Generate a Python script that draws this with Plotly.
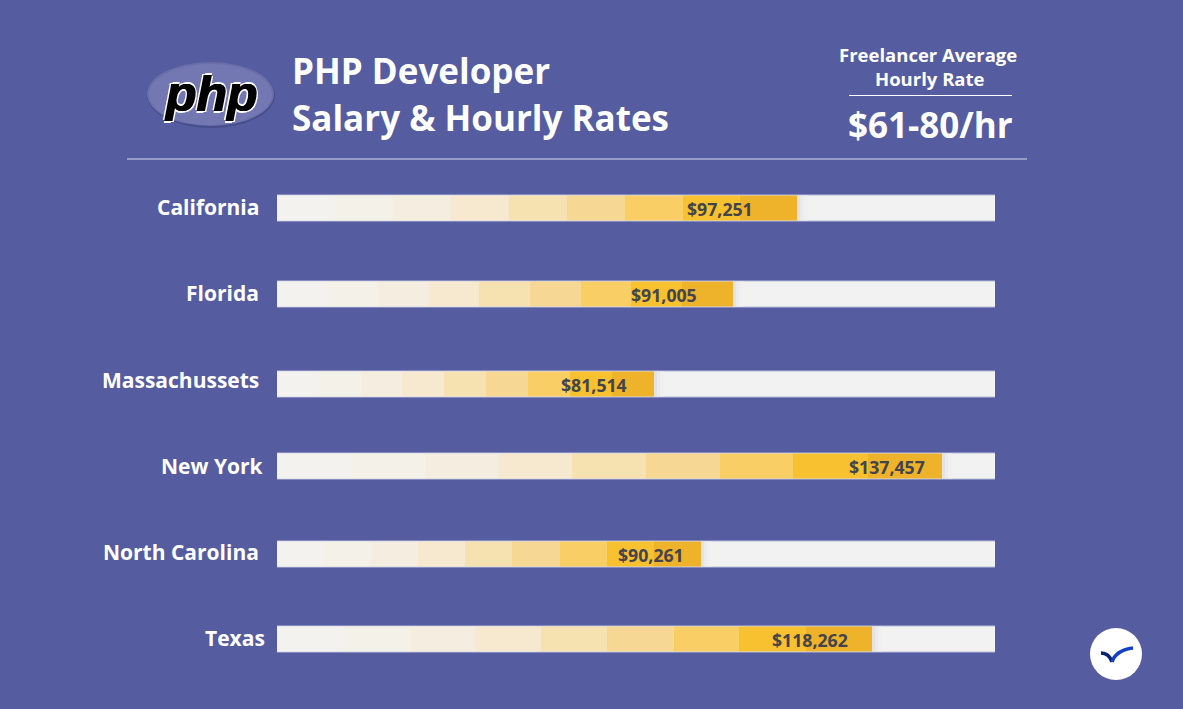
import numpy as np
import plotly.graph_objects as go

# rows, top to bottom
states = ["California", "Florida", "Massachussets", "New York", "North Carolina", "Texas"]
salaries = [97251, 91005, 81514, 137457, 90261, 118262]

# widths of the nine shaded steps in each bar
california = [58.5, 57, 58, 58, 58, 58, 58, 57, 58]
florida = [51, 50, 51, 50, 51, 51, 50, 51, 51]
massachussets = [42, 42, 41, 42, 42, 42, 42, 42, 42]
new_york = [75, 73, 74, 73, 74, 74, 73, 75, 74]
north_carolina = [46, 48, 47, 47, 47, 48, 47, 47, 47]
texas = [66, 67, 65, 66, 66, 67, 65, 67, 66]

step_colors = ["#f3f2ee", "#f3f1e8", "#f5eee0", "#f6e9cf", "#f6e2b1",
               "#f6d793", "#f8ce65", "#f7c12f", "#eeb22b"]

BG = "#555c9f"
BAR_START = 277
BAR_WIDTH = 718
row_y = [208, 294, 384, 466, 554, 639]
label_y = [207, 293, 380, 465.5, 552, 638]
label_right = [261, 261, 261, 266, 261, 267]
value_x = [720, 664, 594, 887, 651, 810]

widths = np.array([california, florida, massachussets, new_york, north_carolina, texas])
starts = BAR_START + np.hstack([np.zeros((6, 1)), np.cumsum(widths, axis=1)[:, :-1]])
ends = BAR_START + widths.sum(axis=1)

fig = go.Figure()

# thin lavender edge, then the pale track on top of it
fig.add_trace(go.Bar(
    y=row_y, x=[BAR_WIDTH] * 6, base=[BAR_START] * 6, orientation="h", width=27,
    marker=dict(color="#b8bbdb", line=dict(width=0)), hoverinfo="skip"))
fig.add_trace(go.Bar(
    y=row_y, x=[BAR_WIDTH] * 6, base=[BAR_START] * 6, orientation="h", width=25,
    marker=dict(color="#f2f2f2", line=dict(width=0)), hoverinfo="skip"))

for i, color in enumerate(step_colors):
    fig.add_trace(go.Bar(
        y=row_y, x=widths[:, i], base=starts[:, i], orientation="h", width=25,
        marker=dict(color=color, line=dict(width=0)), hoverinfo="skip"))

# soft shadow at the end of each filled part
for offset, w, color in [(0, 3, "#e3e3e6"), (3, 3, "#ebebed"), (6, 4, "#f0f0f1")]:
    fig.add_trace(go.Bar(
        y=row_y, x=[w] * 6, base=ends + offset, orientation="h", width=25,
        marker=dict(color=color, line=dict(width=0)), hoverinfo="skip"))

FONT = "Open Sans"
annotations = []


def add_text(x, y, text, size, anchor="left", weight=700, color="white"):
    annotations.append(dict(
        x=x, y=y, text=text, xref="x", yref="y", xanchor=anchor, yanchor="middle",
        showarrow=False, font=dict(family=FONT, size=size, color=color, weight=weight)))


for name, right, y in zip(states, label_right, label_y):
    add_text(right, y, name, 21, anchor="right")
for value, x, y in zip(salaries, value_x, row_y):
    add_text(x, y + 0.5, f"${value:,}", 17.7, anchor="center", color="#44444c")

add_text(290, 70.5, "PHP Developer", 35)
add_text(290, 117.5, "Salary & Hourly Rates", 35)
add_text(928, 54, "Freelancer Average", 18.5, anchor="center")
add_text(930, 78, "Hourly Rate", 18.5, anchor="center")
add_text(930, 124, "$61-80/hr", 35, anchor="center")

# php wordmark
annotations.append(dict(
    x=211, y=94, text="php", xref="x", yref="y", xanchor="center", yanchor="middle", showarrow=False,
    font=dict(family="Liberation Sans", size=50, color="black", weight=700, style="italic",
              shadow="0.7px 0 0 #000, -0.7px 0 0 #000, 2px 1px 0 #fff, -2px -1px 0 #fff, 1px -2px 0 #fff, -1px 2px 0 #fff")))


def ellipse(x0, y0, x1, y1, color):
    return dict(type="circle", xref="x", yref="y", x0=x0, y0=y0, x1=x1, y1=y1,
                fillcolor=color, line=dict(width=0), layer="below")


def line(x0, y0, x1, y1, color, width):
    return dict(type="line", xref="x", yref="y", x0=x0, y0=y0, x1=x1, y1=y1,
                line=dict(color=color, width=width))


def stroke(path, color, width):
    return dict(type="path", xref="x", yref="y", path=path,
                line=dict(color=color, width=width))


shapes = [
    line(127, 159, 1027, 159, "#aeb1d4", 1.5),
    line(849, 95.5, 1012, 95.5, "white", 1),
    ellipse(147, 62, 275, 128, "#484e8c"),
    ellipse(147, 62, 274, 126, "#6a6fab"),
    ellipse(149, 64, 272, 125, "#7478b2"),
    ellipse(1090, 628, 1142, 680, "white"),
    stroke("M 1101 653 Q 1109 653 1112 662", "#0b2170", 3.5),
    stroke("M 1112 662 Q 1116 650 1133 648", "#1440c8", 3.5),
]

fig.update_layout(
    width=1183, height=709, margin=dict(l=0, r=0, t=0, b=0),
    paper_bgcolor=BG, plot_bgcolor=BG, barmode="overlay", showlegend=False,
    xaxis=dict(range=[0, 1183], visible=False, fixedrange=True),
    yaxis=dict(range=[709, 0], visible=False, fixedrange=True),
    annotations=annotations, shapes=shapes)

fig.write_html("out.html", config={"displayModeBar": False},
               post_script=f"document.body.style.margin='0';document.body.style.background='{BG}';")
